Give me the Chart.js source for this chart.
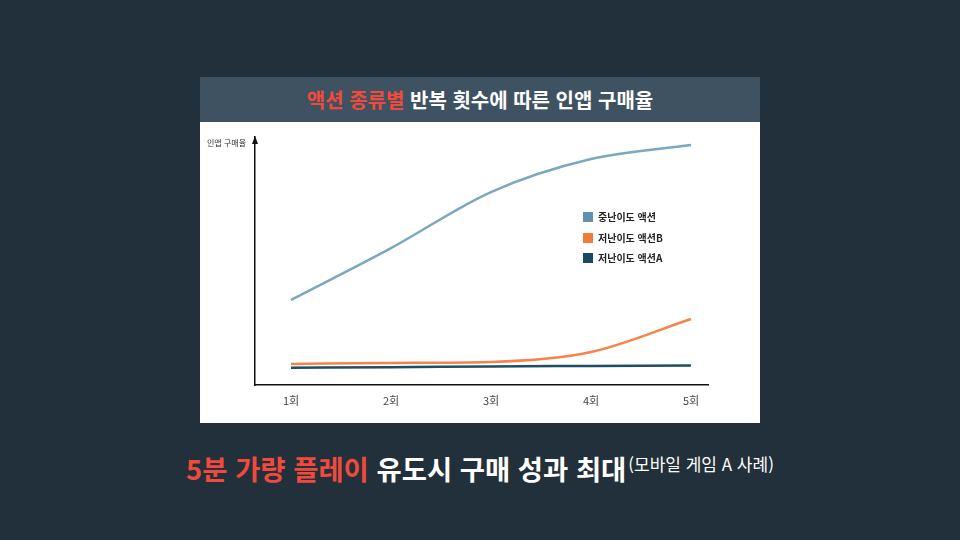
<!DOCTYPE html>
<html lang="ko">
<head>
<meta charset="utf-8">
<script src="https://cdn.jsdelivr.net/npm/chart.js@4"></script>
<style>
    html, body { margin: 0; padding: 0; }
    body {
        width: 960px; height: 540px; overflow: hidden; position: relative;
        background: #21303a;
        font-family: 'Noto Sans CJK KR', 'Noto Sans', sans-serif;
    }
    .header {
        position: absolute; left: 200px; top: 77px; width: 560px; height: 45px;
        background: #3e5262; color: #fff; font-weight: 700; font-size: 20px;
        text-align: center; line-height: 45px;
    }
    .red { color: #f04a3c; }
    .card {
        position: absolute; left: 200px; top: 122px; width: 560px; height: 301px;
        background: #fff;
    }
    #chart { position: absolute; left: 0; top: 0; }
    .ylabel {
        position: absolute; left: 7px; top: 15px; font-size: 8px; color: #333;
        line-height: 12px;
    }
    .legend { position: absolute; left: 383px; top: 90px; }
    .legend div {
        height: 10px; line-height: 10px; margin-bottom: 10.5px;
        font-size: 10px; font-weight: 700; color: #222; white-space: nowrap;
    }
    .legend span {
        display: inline-block; width: 10px; height: 10px; vertical-align: top;
        margin-right: 5px;
    }
    .caption {
        position: absolute; left: 0; top: 444px; width: 960px; text-align: center;
        color: #fff; font-weight: 700; font-size: 27.4px; line-height: 40px;
        white-space: nowrap;
    }
    .caption small {
        font-size: 17px; font-weight: 400; vertical-align: 9px; margin-left: 2px;
    }
</style>
</head>
<body>
<div class="header"><span class="red">액션 종류별</span> 반복 횟수에 따른 인앱 구매율</div>
<div class="card">
    <canvas id="chart" width="560" height="301"></canvas>
    <div class="ylabel">인앱 구매율</div>
    <div class="legend" id="legend"></div>
</div>
<div class="caption"><span class="red">5분 가량 플레이</span> 유도시 구매 성과 최대<small>(모바일 게임 A 사례)</small></div>
<script>
    const xLabels = ['1회', '2회', '3회', '4회', '5회'];
    const seriesNames = ['중난이도 액션', '저난이도 액션B', '저난이도 액션A'];
    const midActionValues = [34.3, 55.2, 77.8, 91.1, 96.8];
    const lowActionBValues = [8.5, 8.9, 9.3, 13.3, 26.6];
    const lowActionAValues = [7.0, 7.2, 7.5, 7.7, 7.9];
    const lineColors = ['#7ba7bf', '#f5834a', '#1d4e63'];
    const legendColors = ['#5f93ad', '#f47a3c', '#1b4a60'];

    const allValues = [midActionValues, lowActionBValues, lowActionAValues];

    // legend
    const legendEl = document.getElementById('legend');
    seriesNames.forEach((name, i) => {
        const row = document.createElement('div');
        row.innerHTML = `<span style="background:${legendColors[i]}"></span>${name}`;
        legendEl.appendChild(row);
    });

    Chart.defaults.font.family = "'Noto Sans CJK KR', 'Noto Sans', sans-serif";

    // arrow head on the y axis
    const axisArrow = {
        id: 'axisArrow',
        afterDraw(chart) {
            const ctx = chart.ctx;
            const { left, top } = chart.chartArea;
            ctx.save();
            ctx.fillStyle = '#111';
            ctx.beginPath();
            ctx.moveTo(left, top - 1);
            ctx.lineTo(left - 3, top + 7);
            ctx.lineTo(left + 3, top + 7);
            ctx.closePath();
            ctx.fill();
            ctx.restore();
        }
    };

    new Chart(document.getElementById('chart'), {
        type: 'line',
        data: {
            datasets: allValues.map((values, i) => ({
                label: seriesNames[i],
                data: values.map((v, j) => ({ x: j + 1, y: v })),
                borderColor: lineColors[i],
                borderWidth: 2.5,
                pointRadius: 0,
                cubicInterpolationMode: 'monotone',
                fill: false
            }))
        },
        options: {
            responsive: false,
            animation: false,
            layout: { padding: { left: 55, right: 52, top: 15, bottom: 0 } },
            plugins: { legend: { display: false }, tooltip: { enabled: false } },
            scales: {
                x: {
                    type: 'linear',
                    min: 0.64,
                    max: 5.17,
                    afterBuildTicks: scale => {
                        scale.ticks = xLabels.map((_, i) => ({ value: i + 1 }));
                    },
                    afterFit: scale => { scale.height = 38; },
                    grid: { display: false, drawTicks: false },
                    border: { display: true, color: '#111', width: 1.5 },
                    ticks: {
                        padding: 9,
                        color: '#444',
                        font: { size: 11 },
                        callback: v => xLabels[v - 1]
                    }
                },
                y: {
                    min: 0,
                    max: 100,
                    afterFit: scale => { scale.width = 0; },
                    grid: { display: false, drawTicks: false },
                    border: { display: true, color: '#111', width: 1.5 },
                    ticks: { display: false }
                }
            }
        },
        plugins: [axisArrow]
    });
</script>
</body>
</html>
